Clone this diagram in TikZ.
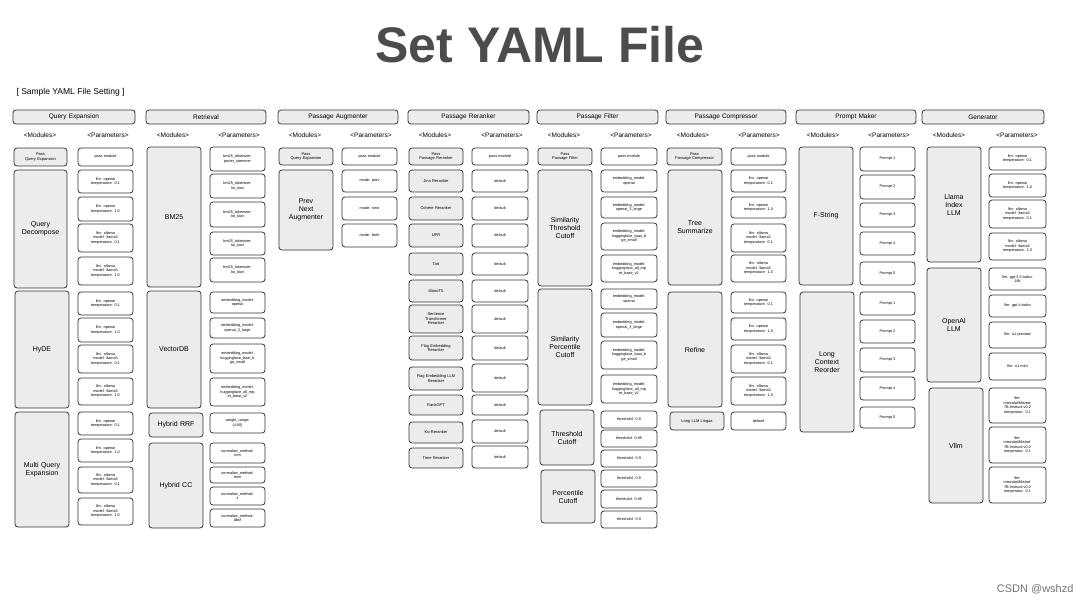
\documentclass[tikz,border=0pt]{standalone}
\usepackage{fontspec}
\setmainfont{Liberation Sans}
\begin{document}
\begin{tikzpicture}[x=1pt,y=-1pt,
 bx/.style={draw=black!80,line width=0.8pt,rounded corners=3pt,align=center,inner sep=1pt},
 mod/.style={bx,fill=gray!15,font=\fontsize{7}{8}\selectfont},
 smod/.style={bx,fill=gray!15,font=\fontsize{4}{4.6}\selectfont},
 par/.style={bx,fill=white,font=\fontsize{3.8}{4.5}\selectfont},
 hd/.style={bx,fill=gray!15,font=\fontsize{6.5}{7}\selectfont},
 sub/.style={font=\fontsize{6.5}{7}\selectfont}]
\newcommand\Bx[7]{\node[#1,minimum width={(#5-#3)*1pt},minimum height={(#6-#4)*1pt},text width={(#5-#3-3)*1pt}] (#2) at ({(#3+#5)/2},{(#4+#6)/2}) {#7};}
\path[use as bounding box] (0,0) rectangle (1080,608);
\node[font=\bfseries\fontsize{50}{54}\selectfont,text=black!70] (title) at (540,45) {Set YAML File};
\node[anchor=west,font=\fontsize{8.5}{9}\selectfont] (sample) at (13,92) {[ Sample YAML File Setting ]};
\node[anchor=south east,font=\fontsize{11}{12}\selectfont,text=black!55] (csdn) at (1077,598) {CSDN @wshzd};
% headers
\foreach \n/\a/\b/\t in {h1/13/135/Query Expansion,h2/146/266/Retrieval,h3/278/398/Passage Augmenter,h4/408/529/Passage Reranker,h5/537/658/Passage Filter,h6/666/786/Passage Compressor,h7/796/916/Prompt Maker,h8/922/1044/Generator}{
 \Bx{hd}{\n}{\a}{110}{\b}{124}{\t}
 \node[sub] (\n m) at ({\a+27},135) {<Modules>};
 \node[sub] (\n p) at ({\b-27},135) {<Parameters>};
}
% Query Expansion
\Bx{smod}{a1}{14}{148}{67}{166}{Pass\\Query Expansion}
\Bx{mod}{a2}{14}{170}{67}{288}{Query\\Decompose}
\Bx{mod}{a3}{15}{291}{69}{408}{HyDE}
\Bx{mod}{a4}{15}{412}{69}{527}{Multi Query\\Expansion}
\Bx{par}{ap0}{78}{148}{133}{166}{pass module}
\foreach \i/\y/\z/\t in {1/170/193/{llm: openai\\temperature: 0.1},2/197/221/{llm: openai\\temperature: 1.0},3/224/252/{llm: ollama\\model: llama3\\temperature: 0.1},4/257/285/{llm: ollama\\model: llama3\\temperature: 1.0},5/292/315/{llm: openai\\temperature: 0.1},6/318/342/{llm: openai\\temperature: 1.0},7/345/373/{llm: ollama\\model: llama3\\temperature: 0.1},8/378/405/{llm: ollama\\model: llama3\\temperature: 1.0},9/412/435/{llm: openai\\temperature: 0.1},10/439/462/{llm: openai\\temperature: 1.0},11/467/493/{llm: ollama\\model: llama3\\temperature: 0.1},12/498/525/{llm: ollama\\model: llama3\\temperature: 1.0}}{\Bx{par}{ap\i}{78}{\y}{133}{\z}{\t}}
% Retrieval
\Bx{mod}{b1}{147}{147}{201}{287}{BM25}
\Bx{mod}{b2}{147}{291}{201}{408}{VectorDB}
\Bx{mod}{b3}{149}{413}{203}{437}{Hybrid RRF}
\Bx{mod}{b4}{149}{443}{203}{528}{Hybrid CC}
\foreach \i/\y/\z/\t in {1/147/171/{bm25\_tokenizer:\\porter\_stemmer},2/174/198/{bm25\_tokenizer:\\ko\_kiwi},3/202/227/{bm25\_tokenizer:\\ko\_kiwi},4/232/255/{bm25\_tokenizer:\\ko\_kiwi},5/258/282/{bm25\_tokenizer:\\ko\_kiwi},6/292/313/{embedding\_model:\\openai},7/318/338/{embedding\_model:\\openai\_3\_large},8/344/373/{embedding\_model:\\huggingface\_baai\_b\\ge\_small},9/378/406/{embedding\_model:\\huggingface\_all\_mp\\et\_base\_v2},10/413/433/{weight\_range:\\(4,80)},11/443/463/{normalize\_method:\\mm},12/467/483/{normalize\_method:\\tmm},13/487/505/{normalize\_method:\\z},14/509/527/{normalize\_method:\\dbsf}}{\Bx{par}{bp\i}{210}{\y}{265}{\z}{\t}}
% Passage Augmenter
\Bx{smod}{c1}{279}{148}{333}{165}{Pass\\Query Expansion}
\Bx{mod}{c2}{279}{170}{333}{250}{Prev\\Next\\Augmenter}
\foreach \i/\y/\z/\t in {0/148/165/{pass module},1/170/192/{mode: prev},2/197/220/{mode: next},3/224/247/{mode: both}}{\Bx{par}{cp\i}{342}{\y}{397}{\z}{\t}}
% Passage Reranker
\foreach \i/\y/\z/\t in {0/148/165/{Pass\\Passage Reranker},1/170/192/{Jina Reranker},2/197/220/{Cohere Reranker},3/224/247/{UPR},4/253/275/{Tart},5/280/302/{MonoT5},6/305/333/{Sentence\\Transformer\\Reranker},7/336/360/{Flag Embedding\\Reranker},8/367/390/{Flag Embedding LLM\\Reranker},9/395/415/{RankGPT},10/422/443/{Ko-Reranker},11/448/468/{Time Reranker}}{\Bx{smod}{d\i}{409}{\y}{463}{\z}{\t}}
\Bx{par}{dp0}{472}{148}{528}{165}{pass module}
\foreach \i/\y/\z in {1/170/192,2/197/220,3/224/247,4/253/275,5/280/302,6/305/333,7/336/360,8/364/392,9/395/415,10/420/443,11/446/468}{\Bx{par}{dp\i}{472}{\y}{528}{\z}{default}}
% Passage Filter
\Bx{smod}{e1}{538}{148}{592}{165}{Pass\\Passage Filter}
\Bx{mod}{e2}{538}{170}{592}{286}{Similarity\\Threshold\\Cutoff}
\Bx{mod}{e3}{538}{289}{592}{405}{Similarity\\Percentile\\Cutoff}
\Bx{mod}{e4}{540}{410}{594}{465}{Threshold\\Cutoff}
\Bx{mod}{e5}{541}{470}{595}{523}{Percentile\\Cutoff}
\foreach \i/\y/\z/\t in {0/148/165/{pass module},1/170/192/{embedding\_model:\\openai},2/197/218/{embedding\_model:\\openai\_3\_large},3/223/250/{embedding\_model:\\huggingface\_baai\_b\\ge\_small},4/255/282/{embedding\_model:\\huggingface\_all\_mp\\et\_base\_v2},5/289/309/{embedding\_model:\\openai},6/313/337/{embedding\_model:\\openai\_3\_large},7/341/369/{embedding\_model:\\huggingface\_baai\_b\\ge\_small},8/375/403/{embedding\_model:\\huggingface\_all\_mp\\et\_base\_v2},9/411/428/{threshold: 0.8},10/430/447/{threshold: 0.85},11/450/467/{threshold: 0.9},12/470/487/{threshold: 0.8},13/490/508/{threshold: 0.85},14/511/528/{threshold: 0.9}}{\Bx{par}{ep\i}{601}{\y}{657}{\z}{\t}}
% Passage Compressor
\Bx{smod}{f1}{667}{148}{722}{165}{Pass\\Passage Compressor}
\Bx{mod}{f2}{668}{170}{722}{285}{Tree\\Summarize}
\Bx{mod}{f3}{668}{292}{722}{407}{Refine}
\Bx{smod}{f4}{670}{412}{724}{430}{Long LLM Lingua}
\foreach \i/\y/\z/\t in {0/148/165/{pass module},1/170/192/{llm: openai\\temperature: 0.1},2/197/218/{llm: openai\\temperature: 1.0},3/224/252/{llm: ollama\\model: llama3\\temperature: 0.1},4/255/282/{llm: ollama\\model: llama3\\temperature: 1.0},5/292/313/{llm: openai\\temperature: 0.1},6/318/340/{llm: openai\\temperature: 1.0},7/345/373/{llm: ollama\\model: llama3\\temperature: 0.1},8/377/405/{llm: ollama\\model: llama3\\temperature: 1.0},9/412/430/{default}}{\Bx{par}{fp\i}{731}{\y}{786}{\z}{\t}}
% Prompt Maker
\Bx{mod}{g1}{799}{147}{853}{285}{F-String}
\Bx{mod}{g2}{800}{292}{854}{432}{Long\\Context\\Reorder}
\foreach \i/\y/\z/\t in {1/147/171/{Prompt 1},2/175/199/{Prompt 2},3/203/227/{Prompt 3},4/232/255/{Prompt 4},5/262/285/{Prompt 5},6/292/315/{Prompt 1},7/320/343/{Prompt 2},8/348/372/{Prompt 3},9/377/400/{Prompt 4},10/407/428/{Prompt 5}}{\Bx{par}{gp\i}{860}{\y}{915}{\z}{\t}}
% Generator
\Bx{mod}{k1}{927}{147}{981}{262}{Llama\\Index\\LLM}
\Bx{mod}{k2}{927}{268}{981}{382}{OpenAI\\LLM}
\Bx{mod}{k3}{929}{388}{983}{503}{Vllm}
\foreach \i/\y/\z/\t in {1/147/170/{llm: openai\\temperature: 0.1},2/174/197/{llm: openai\\temperature: 1.0},3/200/228/{llm: ollama\\model: llama3\\temperature: 0.1},4/233/260/{llm: ollama\\model: llama3\\temperature: 1.0},5/268/290/{llm: gpt-3.5-turbo-\\16k},6/295/317/{llm: gpt-4-turbo},7/322/348/{llm: o1-preview},8/353/380/{llm: o1-mini},9/388/423/{llm:\\mistralai/Mistral-\\7B-Instruct-v0.2\\temperatur: 0.1},10/427/463/{llm:\\mistralai/Mistral-\\7B-Instruct-v0.2\\temperatur: 0.1},11/467/503/{llm:\\mistralai/Mistral-\\7B-Instruct-v0.2\\temperatur: 0.1}}{\Bx{par}{kp\i}{989}{\y}{1046}{\z}{\t}}
\end{tikzpicture}
\end{document}
